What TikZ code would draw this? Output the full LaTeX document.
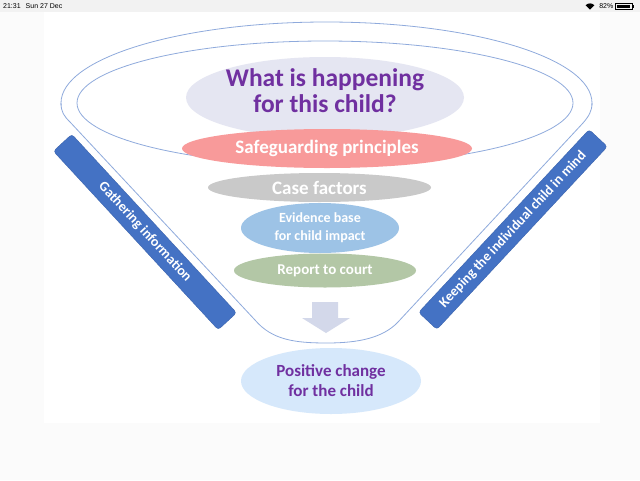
\documentclass[tikz,border=0pt]{standalone}
\usepackage{fontspec}
\setmainfont{Carlito}
\newfontfamily\statusfont{Liberation Sans}
\usetikzlibrary{shapes.geometric}
\definecolor{purp}{HTML}{7030A0}
\definecolor{pagebg}{HTML}{FBFBFB}
\definecolor{statusbg}{HTML}{F2F2F2}
\definecolor{funnelblue}{HTML}{8FAADC}
\definecolor{titlefill}{HTML}{E5E6F2}
\definecolor{pinkfill}{HTML}{F89A9A}
\definecolor{grayfill}{HTML}{C9C9C9}
\definecolor{bluefill}{HTML}{9DC3E6}
\definecolor{greenfill}{HTML}{B3C7A6}
\definecolor{endfill}{HTML}{D6E8FB}
\definecolor{arrowfill}{HTML}{D3D8EA}
\definecolor{boxblue}{HTML}{4472C4}
\definecolor{boxborder}{HTML}{3A63AD}
\tikzset{
  bubble/.style={ellipse, inner sep=0pt, align=center, font=\bfseries},
  funnelline/.style={draw=funnelblue, line width=0.8pt},
  sidebox/.style={draw=boxborder, fill=boxblue, rounded corners=3pt,
    minimum height=25pt, text=white, inner sep=0pt,
    font=\bfseries\fontsize{14}{15}\selectfont}
}
\begin{document}
\begin{tikzpicture}[x=1pt,y=-1pt]
\useasboundingbox (0,0) rectangle (640,480);
\fill[pagebg] (0,0) rectangle (640,480);
\fill[white] (44,12) rectangle (600,423);
% status bar
\fill[statusbg] (0,0) rectangle (640,12);
\node[anchor=west, inner sep=0pt, font=\statusfont\fontsize{7}{8}\selectfont] (clock) at (3,6.2) {21:31\hspace{5pt}Sun 27 Dec};
\node[anchor=east, inner sep=0pt, font=\statusfont\fontsize{7}{8}\selectfont] (batt) at (613.5,6.2) {82\%};
\fill[black] (590,9.6) -- (585.6,5.2) .. controls (588.2,2.8) and (591.8,2.8) .. (594.4,5.2) -- cycle;
\draw[black, line width=0.5pt] (615.5,3.5) rectangle (632,9.5);
\fill[black] (616.6,4.6) rectangle (629.5,8.4);
\fill[black] (632.4,5.4) rectangle (633.6,7.6);
% funnel outline
\begin{scope}
  \clip (0,0) rectangle (640,104);
  \draw[funnelline] (326.5,103) ellipse (265.5 and 81);
\end{scope}
\draw[funnelline] (61,103) .. controls (61,112) and (64,116) .. (70,122)
  -- (255,320) .. controls (272,340) and (295,343) .. (327,343)
  .. controls (358,343) and (383,338) .. (398,322)
  -- (583,123) .. controls (589,116) and (592,111) .. (592,103);
\draw[funnelline] (325,103) ellipse (248 and 62);
% bubbles
\node[bubble, fill=titlefill, minimum width=278pt, minimum height=81pt] (what) at (325,97.5) {};
\node[align=center, inner sep=0pt, text=purp,
  font=\bfseries\fontsize{25.5}{26}\selectfont] (whattext) at (325,91) {What is happening\\for this child?};
\node[bubble, fill=pinkfill, minimum width=290pt, minimum height=39pt, text=white,
  font=\bfseries\fontsize{19}{20}\selectfont] (safe) at (327,148.5) {Safeguarding principles};
\node[bubble, fill=grayfill, minimum width=223pt, minimum height=29pt, text=white,
  font=\bfseries\fontsize{19}{20}\selectfont] (case) at (319.5,187.5) {Case factors};
\node[bubble, fill=bluefill, minimum width=158pt, minimum height=50pt, text=white,
  font=\bfseries\fontsize{14}{18}\selectfont] (evid) at (320,228) {Evidence base\\for child impact};
\node[bubble, fill=greenfill, minimum width=182pt, minimum height=34pt, text=white,
  font=\bfseries\fontsize{15}{16}\selectfont] (report) at (325,270.5) {Report to court};
% arrow
\fill[arrowfill] (312,302) -- (338,302) -- (338,318) -- (350,318) -- (326,333) -- (302,318) -- (312,318) -- cycle;
% result
\node[bubble, fill=endfill, minimum width=180pt, minimum height=66pt, text=purp,
  font=\bfseries\fontsize{17}{20}\selectfont] (change) at (331,381) {Positive change\\for the child};
% side boxes
\node[sidebox, minimum width=243pt, rotate=-47.3] (gather) at (145,232) {Gathering information};
\node[sidebox, minimum width=250pt, rotate=47] (keep) at (513,229.5) {Keeping the individual child in mind};
\end{tikzpicture}
\end{document}
